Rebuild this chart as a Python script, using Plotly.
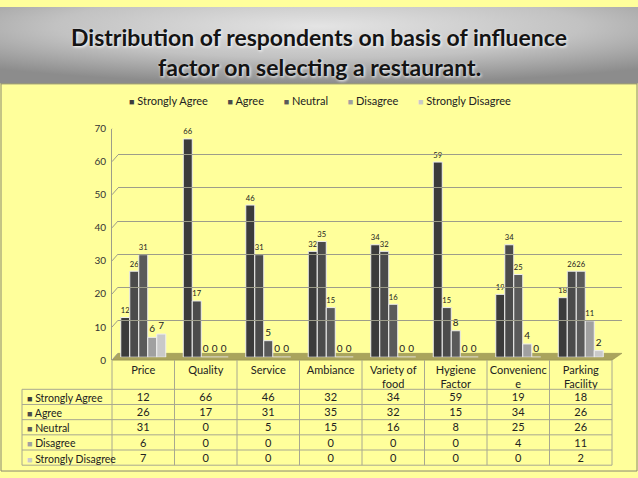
import base64
import plotly.graph_objects as go

# ---------------- data ----------------
categories = ["Price", "Quality", "Service", "Ambiance", "Variety of food",
              "Hygiene Factor", "Convenience", "Parking Facility"]
table_headers = ["Price", "Quality", "Service", "Ambiance", "Variety of<br>food",
                 "Hygiene<br>Factor", "Convenienc<br>e", "Parking<br>Facility"]
series_names = ["Strongly Agree", "Agree", "Neutral", "Disagree", "Strongly Disagree"]
strongly_agree = [12, 66, 46, 32, 34, 59, 19, 18]
agree = [26, 17, 31, 35, 32, 15, 34, 26]
neutral = [31, 0, 5, 15, 16, 8, 25, 26]
disagree = [6, 0, 0, 0, 0, 0, 4, 11]
strongly_disagree = [7, 0, 0, 0, 0, 0, 0, 2]
y_ticks = [0, 10, 20, 30, 40, 50, 60, 70]
title_lines = ["Distribution of respondents on basis of influence",
               "factor on selecting a restaurant."]

series_values = [strongly_agree, agree, neutral, disagree, strongly_disagree]
colors = ["#3b3b3b", "#4b4b4b", "#5a5a5a", "#a0a0a0", "#c9c9c9"]

W, H = 638, 478
FONT = "Lato, 'Open Sans', sans-serif"
LINE = "#a8a890"
GRID = "#9d9d8a"


def px(x):
    return x / W


def py(y):
    return 1 - y / H


PLOT_L, PLOT_R, FLOOR_Y, TOP_Y = 112, 612, 363, 125
DX, DY = 6, 7            # depth offset of the back wall
TABLE_L, HEADER_H, ROW_H = 22, 30, 15.6
n_rows = len(series_names)
rows_top = FLOOR_Y + HEADER_H
table_bottom = rows_top + ROW_H * n_rows

fig = go.Figure()

# front axis (tick labels) host
fig.add_trace(go.Scatter(x=[], y=[], xaxis="x", yaxis="y", showlegend=False))

for name, vals, col in zip(series_names, series_values, colors):
    fig.add_trace(go.Bar(
        x=categories, y=vals, name=name, xaxis="x", yaxis="y5",
        marker=dict(color=col, line=dict(color="#eeeeee", width=1)),
        text=vals, textposition="outside", cliponaxis=False,
        textfont=dict(size=10, color="#222222", family=FONT),
        showlegend=False,
    ))

# back-wall gridlines subplot host
fig.add_trace(go.Scatter(x=[], y=[], xaxis="x2", yaxis="y2", showlegend=False))

# data-table values, placed on their own category axes
for name, vals in zip(series_names, series_values):
    fig.add_trace(go.Scatter(
        x=categories, y=[name] * len(categories), text=vals, mode="text",
        textposition="middle center", xaxis="x3", yaxis="y3", showlegend=False,
        textfont=dict(size=11, color="#222222", family=FONT), hoverinfo="skip",
    ))

# gradient for title band
svg = ("<svg xmlns='http://www.w3.org/2000/svg' width='638' height='79' preserveAspectRatio='none'>"
       "<defs><radialGradient id='g' cx='50%' cy='25%' r='75%'>"
       "<stop offset='0' stop-color='#e4e4e4'/><stop offset='0.55' stop-color='#c2c2c2'/>"
       "<stop offset='1' stop-color='#8c8c8c'/></radialGradient></defs>"
       "<rect width='638' height='79' fill='url(#g)'/></svg>")
src = "data:image/svg+xml;base64," + base64.b64encode(svg.encode()).decode()

shapes = [
    # yellow panel border
    dict(type="rect", xref="paper", yref="paper", x0=px(1), x1=px(637), y0=py(477), y1=py(79),
         line=dict(color="#8a8a70", width=1), fillcolor="rgba(0,0,0,0)", layer="below"),
    # floor
    dict(type="path", xref="paper", yref="paper",
         path=f"M {px(PLOT_L)},{py(FLOOR_Y)} L {px(PLOT_R)},{py(FLOOR_Y)} "
              f"L {px(PLOT_R + 10)},{py(FLOOR_Y - DY)} L {px(PLOT_L + DX)},{py(FLOOR_Y - DY)} Z",
         fillcolor="#aaa45c", line=dict(color="#8f8a50", width=0.5), layer="below"),
]
unit_px = (FLOOR_Y - TOP_Y) / 70
for t in y_ticks:
    shapes.append(dict(type="line", xref="paper", yref="y", x0=px(PLOT_L), x1=px(PLOT_L + DX),
                       y0=t, y1=t + DY / unit_px, line=dict(color=GRID, width=1), layer="below"))

# table grid
col_w = (PLOT_R - PLOT_L) / len(categories)
for k in range(len(categories) + 1):
    xk = PLOT_L + col_w * k
    shapes.append(dict(type="line", xref="paper", yref="paper", x0=px(xk), x1=px(xk),
                       y0=py(FLOOR_Y), y1=py(table_bottom), line=dict(color=LINE, width=1)))
shapes.append(dict(type="line", xref="paper", yref="paper", x0=px(TABLE_L), x1=px(TABLE_L),
                   y0=py(rows_top), y1=py(table_bottom), line=dict(color=LINE, width=1)))
for r in range(n_rows + 1):
    yr = rows_top + ROW_H * r
    shapes.append(dict(type="line", xref="paper", yref="paper", x0=px(TABLE_L), x1=px(PLOT_R),
                       y0=py(yr), y1=py(yr), line=dict(color=LINE, width=1)))

annotations = []
for i, (n, c) in enumerate(zip(series_names, colors)):
    yc = rows_top + ROW_H * (i + 0.5) + 1
    annotations.append(dict(text=f"<span style='color:{c};font-size:9px'>■</span> {n}",
                            x=px(TABLE_L + 3), y=py(yc), xref="paper", yref="paper",
                            showarrow=False, xanchor="left", yanchor="middle",
                            font=dict(size=10.5, color="#222222", family=FONT)))

legend_sep = "&nbsp;" * 7
legend_text = legend_sep.join(
    f"<span style='color:{c};font-size:9px'>■</span> {n}" for n, c in zip(series_names, colors))

annotations += [
    dict(text=f"<b>{title_lines[0]}</b>", x=0.5, y=py(31), xref="paper", yref="paper",
         showarrow=False, xanchor="center", yanchor="middle",
         font=dict(size=23, color="#141414", family=FONT, shadow="1px 1px 3px #ffffff")),
    dict(text=f"<b>{title_lines[1]}</b>", x=0.5, y=py(62), xref="paper", yref="paper",
         showarrow=False, xanchor="center", yanchor="middle",
         font=dict(size=23, color="#141414", family=FONT, shadow="1px 1px 3px #ffffff")),
    dict(text=legend_text, x=px(320), y=py(96), xref="paper", yref="paper",
         showarrow=False, xanchor="center", yanchor="middle",
         font=dict(size=11, color="#222222", family=FONT)),
]

fig.update_layout(
    width=W, height=H, autosize=False,
    margin=dict(l=0, r=0, t=0, b=0),
    paper_bgcolor="#ffff9b", plot_bgcolor="rgba(0,0,0,0)",
    font=dict(family=FONT, color="#222222"),
    barmode="group", bargap=0.28, bargroupgap=0,
    showlegend=False,
    images=[dict(source=src, xref="paper", yref="paper", x=0, y=1, sizex=1, sizey=79 / H,
                 sizing="stretch", xanchor="left", yanchor="top", layer="below")],
    xaxis=dict(domain=[px(PLOT_L), px(PLOT_R)], type="category", range=[-0.5, 7.5],
               categoryarray=categories, anchor="y",
               tickvals=categories, ticktext=table_headers, ticks="", ticklabelstandoff=2,
               tickfont=dict(size=11, color="#222222", family=FONT), tickangle=0,
               showgrid=False, zeroline=False, showline=False),
    yaxis=dict(domain=[py(FLOOR_Y), py(TOP_Y)], range=[0, 70], tickvals=y_ticks, anchor="x",
               showgrid=False, zeroline=False, showline=True, linecolor=GRID,
               ticks="", ticklabelstandoff=3, tickfont=dict(size=10, color="#333333")),
    # bars sit mid-depth, slightly above the front edge
    yaxis5=dict(domain=[py(FLOOR_Y - 3), py(TOP_Y - 3)], range=[0, 70], anchor="x",
                visible=False),
    xaxis2=dict(domain=[px(PLOT_L + DX), px(PLOT_R + 10)], range=[0, 1], anchor="y2",
                showticklabels=False, showgrid=False, zeroline=False, showline=False),
    yaxis2=dict(domain=[py(FLOOR_Y - DY), py(TOP_Y - DY)], range=[0, 70], tickvals=y_ticks,
                anchor="x2", showgrid=True, gridcolor=GRID, gridwidth=1,
                showticklabels=False, zeroline=False, showline=False),
    xaxis3=dict(domain=[px(PLOT_L), px(PLOT_R)], type="category", range=[-0.5, 7.5],
                categoryarray=categories, anchor="y3", visible=False),
    yaxis3=dict(domain=[py(table_bottom + 1.5), py(rows_top + 1.5)], type="category",
                categoryarray=series_names, range=[n_rows - 0.5, -0.5], anchor="x3",
                visible=False),
    shapes=shapes, annotations=annotations,
)

fig.write_html("out.html")
